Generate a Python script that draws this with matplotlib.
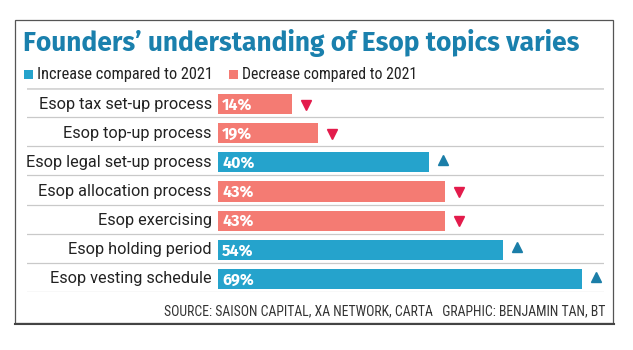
import matplotlib
matplotlib.use("Agg")
import matplotlib.pyplot as plt
from matplotlib.patches import Rectangle
from matplotlib.lines import Line2D

# ── data ────────────────────────────────────────────────
topics = [
    "Esop tax set-up process",
    "Esop top-up process",
    "Esop legal set-up process",
    "Esop allocation process",
    "Esop exercising",
    "Esop holding period",
    "Esop vesting schedule",
]
shares = [14, 19, 40, 43, 43, 54, 69]
change = ["down", "down", "up", "down", "down", "up", "up"]

TITLE = "Founders’ understanding of Esop topics varies"
LEGEND_UP = "Increase compared to 2021"
LEGEND_DOWN = "Decrease compared to 2021"
SOURCE = "SOURCE: SAISON CAPITAL, XA NETWORK, CARTA   GRAPHIC: BENJAMIN TAN, BT"

# ── style ───────────────────────────────────────────────
BLUE = "#25a3cc"
SALMON = "#f47b73"
TITLE_BLUE = "#1a80ad"
UP_TRI = "#1b7ea8"
DOWN_TRI = "#e31b4b"
SEP = "#c9c9c9"
TEXT = "#222222"

BOLD = ["Fira Sans", "DejaVu Sans"]
NARROW = ["Roboto Condensed", "DejaVu Sans"]

W, H = 633, 350
plt.rcParams["font.family"] = ["Roboto", "DejaVu Sans"]

fig = plt.figure(figsize=(W / 100, H / 100), dpi=100)
fig.patch.set_facecolor("white")
renderer = fig.canvas.get_renderer()


def fx(px):
    return px / W


def fy(py):
    return 1 - py / H


def fit(t, width_px):
    # scale a text's font size so it spans the given pixel width
    w = t.get_window_extent(renderer).width
    t.set_fontsize(t.get_fontsize() * width_px / w)


# outer frame
fig.add_artist(Rectangle((fx(15), fy(323)), fx(613) - fx(15), fy(20) - fy(323),
                         transform=fig.transFigure, fill=False,
                         edgecolor="#555555", linewidth=0.9))
fig.add_artist(Line2D([fx(15), fx(614)], [fy(324.3), fy(324.3)],
                      transform=fig.transFigure, color="#444444", linewidth=1.5))

# title
title = fig.text(fx(23), fy(43), TITLE, fontsize=16, fontweight="bold",
                 color=TITLE_BLUE, va="center", ha="left", family=BOLD)
fit(title, 557)

# legend
fig.add_artist(Rectangle((fx(24), fy(79)), fx(9), fy(70) - fy(79),
                         transform=fig.transFigure, color=BLUE, lw=0))
t = fig.text(fx(37), fy(75), LEGEND_UP, fontsize=10, color=TEXT, va="center",
             family=NARROW)
fit(t, 175)
fig.add_artist(Rectangle((fx(229), fy(79)), fx(9), fy(70) - fy(79),
                         transform=fig.transFigure, color=SALMON, lw=0))
t = fig.text(fx(242), fy(75), LEGEND_DOWN, fontsize=10, color=TEXT, va="center",
             family=NARROW)
fit(t, 173)

# source
t = fig.text(fx(605), fy(311), SOURCE, fontsize=9, color="#333333",
             ha="right", va="center", family=NARROW)
fit(t, 442)

# ── bars ────────────────────────────────────────────────
ax = fig.add_axes([fx(27), fy(292), fx(604) - fx(27), fy(88) - fy(292)])
px_per_unit = (582 - 218) / 69
ax.set_xlim(-(218 - 27) / px_per_unit, (604 - 218) / px_per_unit)
ax.set_ylim(len(topics) - 0.5, -0.5)
ax.axis("off")

ypos = [i + 0.05 for i in range(len(topics))]
colors = [BLUE if c == "up" else SALMON for c in change]
ax.barh(ypos, shares, height=0.69, color=colors, linewidth=0)

for i in range(len(topics) + 1):
    ax.axhline(i - 0.5, color="#d6d6d6" if i == 0 else SEP,
               linewidth=2.0 if i == 0 else 0.9)

labels = []
for y, name, v, c in zip(ypos, topics, shares, change):
    labels.append(ax.text(-1.2, y, name, ha="right", va="center",
                          fontsize=11, color=TEXT))
    ax.text(0.8, y + 0.03, f"{v}%", ha="left", va="center", fontsize=11.5,
            fontweight="bold", color="white", family=BOLD)
    if c == "up":
        ax.plot(v + 2.7, y - 0.08, marker="^", markersize=7, color=UP_TRI,
                linestyle="none")
    else:
        ax.plot(v + 2.7, y + 0.02, marker="v", markersize=7, color=DOWN_TRI,
                linestyle="none")

# label size matched on the widest row label
scale = 184 / labels[2].get_window_extent(renderer).width
for t in labels:
    t.set_fontsize(t.get_fontsize() * scale)

fig.savefig("out.png", dpi=100, facecolor="white")
